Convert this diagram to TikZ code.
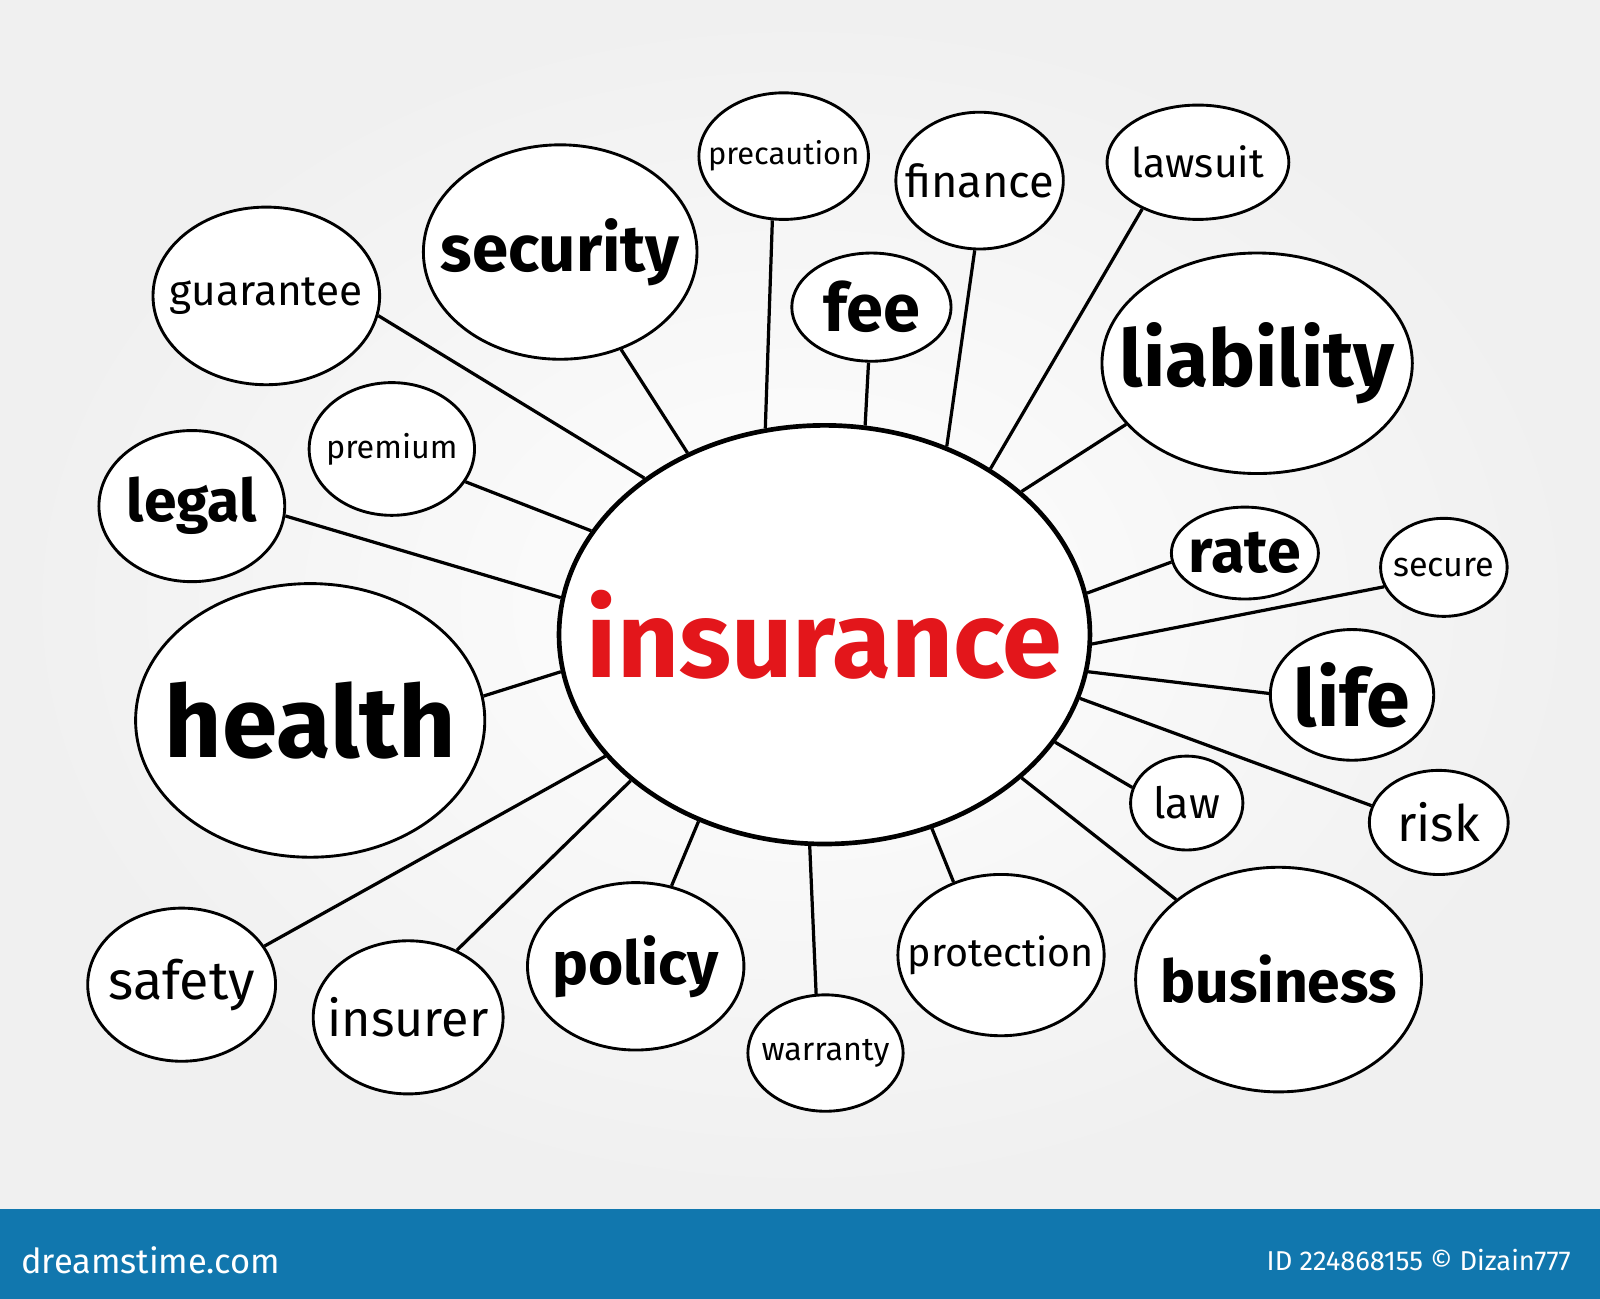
\documentclass[tikz,border=0pt]{standalone}
\usepackage{fontspec}
\setmainfont{Fira Sans}
\usetikzlibrary{shapes.geometric}
\definecolor{barblue}{RGB}{17,119,174}
\definecolor{insred}{RGB}{227,22,27}
\begin{document}
\begin{tikzpicture}[x=0.01cm,y=-0.01cm,
  bubble/.style={ellipse,draw=black,line width=0.8pt,fill=white,inner sep=0pt,
    execute at begin node={\hbox to 0pt\bgroup\hss},
    execute at end node={\hss\egroup}},
  size/.style 2 args={minimum width=#1,minimum height=#2},
  fs/.style={font=\fontsize{#1}{#1}\selectfont},
  fsb/.style={font=\fontsize{#1}{#1}\selectfont\bfseries},
  spoke/.style={draw=black,line width=0.9pt}]
\useasboundingbox (0,0) rectangle (1568,1273);
\shade[inner color=white,outer color=black!6] (0,0) rectangle (1568,1185);
\fill[barblue] (0,1185) rectangle (1568,1273);
\node[anchor=west,inner sep=0pt,text=white,fs=9.6pt] (site) at (20,1235) {dreamstime.com};
\node[anchor=east,inner sep=0pt,text=white,fs=7.6pt] (id) at (1540,1235) {ID 224868155 © Dizain777};
% centre
\node[bubble,line width=1.3pt,size={5.2cm}{4.1cm},text=insred,fsb=30pt] (ins) at (808,622) {insurance};
% top
\node[bubble,size={1.66cm}{1.24cm},fs=8.6pt] (prec) at (768,153) {precaution};
\node[bubble,size={1.64cm}{1.34cm},fs=12.6pt] (fin) at (960,177) {finance};
\node[bubble,size={1.78cm}{1.12cm},fs=11.4pt] (laws) at (1174,159) {lawsuit};
\node[bubble,size={2.68cm}{2.1cm},fsb=18.2pt] (sec) at (549,247) {security};
\node[bubble,size={1.56cm}{1.06cm},fsb=18.6pt] (fee) at (854,301) {fee};
\node[bubble,size={2.22cm}{1.74cm},fs=11.8pt] (guar) at (261,290) {guarantee};
\node[bubble,size={3.04cm}{2.16cm},fsb=22pt] (liab) at (1232,356) {liability};
% left
\node[bubble,size={1.62cm}{1.3cm},fs=9pt] (prem) at (384,440) {premium};
\node[bubble,size={1.82cm}{1.48cm},fsb=16.4pt] (legal) at (188,496) {legal};
\node[bubble,size={3.42cm}{2.68cm},fsb=27.8pt] (health) at (304,706) {health};
% right
\node[bubble,size={1.44cm}{0.9cm},fsb=17pt] (rate) at (1220,542) {rate};
\node[bubble,size={1.24cm}{0.96cm},fs=9.5pt] (secu) at (1415,556) {secure};
\node[bubble,size={1.6cm}{1.28cm},fsb=22pt] (life) at (1325,681) {life};
\node[bubble,size={1.1cm}{0.92cm},fs=12pt] (law) at (1163,787) {law};
\node[bubble,size={1.36cm}{1.02cm},fs=14pt] (risk) at (1410,806) {risk};
% bottom
\node[bubble,size={1.84cm}{1.5cm},fs=15pt] (safe) at (178,965) {safety};
\node[bubble,size={1.86cm}{1.5cm},fs=14pt] (insr) at (400,997) {insurer};
\node[bubble,size={2.12cm}{1.64cm},fsb=16.8pt] (pol) at (623,947) {policy};
\node[bubble,size={1.52cm}{1.14cm},fs=9pt] (warr) at (809,1032) {warranty};
\node[bubble,size={2.02cm}{1.58cm},fs=11pt] (prot) at (981,936) {protection};
\node[bubble,size={2.8cm}{2.2cm},fsb=16.4pt] (bus) at (1253,960) {business};
% spokes
\draw[spoke] (ins.139) -- (guar.-10);
\draw[spoke] (ins.127) -- (sec.-58);
\draw[spoke] (ins.106) -- (prec.260);
\draw[spoke] (ins.79) -- (fee.267);
\draw[spoke] (ins.57) -- (fin.266);
\draw[spoke] (ins.45) -- (laws.220);
\draw[spoke] (ins.36) -- (liab.205);
\draw[spoke] (ins.156) -- (prem.-24);
\draw[spoke] (ins.172) -- (legal.-6);
\draw[spoke] (ins.9) -- (rate.187);
\draw[spoke] (ins.-2) -- (secu.198);
\draw[spoke] (ins.188) -- (health.8);
\draw[spoke] (ins.-8) -- (life.179);
\draw[spoke] (ins.-25) -- (law.164);
\draw[spoke] (ins.-14) -- (risk.166);
\draw[spoke] (ins.209) -- (safe.25);
\draw[spoke] (ins.217) -- (insr.54);
\draw[spoke] (ins.236) -- (pol.66);
\draw[spoke] (ins.266) -- (warr.99);
\draw[spoke] (ins.299) -- (prot.123);
\draw[spoke] (ins.-36) -- (bus.142);
\end{tikzpicture}
\end{document}
